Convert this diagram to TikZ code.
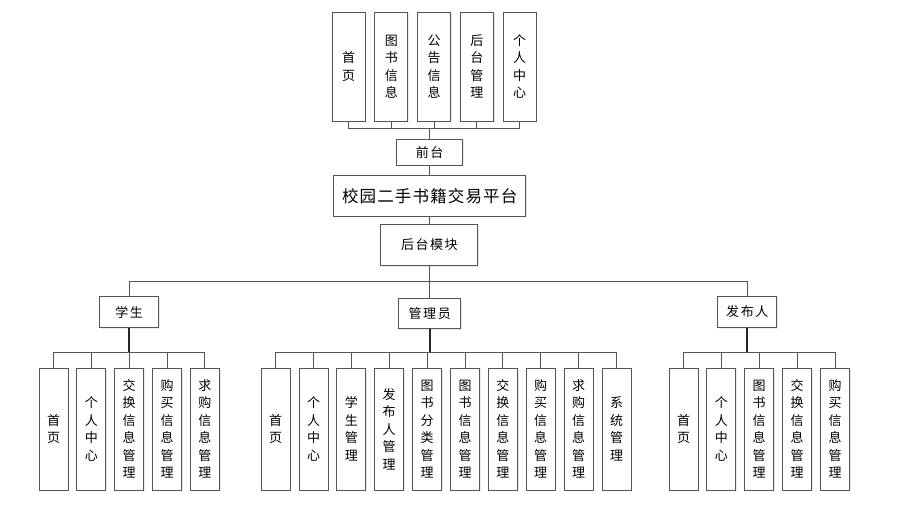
\documentclass[tikz,border=0pt]{standalone}
\usepackage{fontspec}
\newfontfamily\cjk{Noto Sans CJK SC}
\newfontfamily\cjkls[LetterSpace=12]{Noto Sans CJK SC}
\newfontfamily\cjktitle[LetterSpace=7]{Noto Sans CJK SC}
\usetikzlibrary{shadows}
\definecolor{boxline}{HTML}{555555}
\definecolor{conn}{HTML}{555555}
\tikzset{
  box/.style={draw=boxline, line width=1pt, fill=white, inner sep=0pt,
    drop shadow={shadow xshift=1.2pt, shadow yshift=-1.2pt, opacity=0.12, fill=blue!40!gray}},
  leaf/.style={box, minimum width=29, minimum height=122, align=center,
    font=\fontsize{13}{17.5}\selectfont\cjk},
  topleaf/.style={box, minimum width=33, minimum height=109, align=center,
    font=\fontsize{13}{17.5}\selectfont\cjk},
  hbox/.style={box, align=center, font=\fontsize{13}{15}\selectfont\cjkls},
  link/.style={draw=conn, line width=0.9pt},
  thick link/.style={draw=black!85, line width=1.8pt},
}
\begin{document}
\begin{tikzpicture}[x=1pt,y=-1pt]
\useasboundingbox (0,0) rectangle (906,506);
% top
\node[topleaf] (t1) at (348.5,66.5) {首\\页};
\node[topleaf] (t2) at (391.3,66.5) {图\\书\\信\\息};
\node[topleaf] (t3) at (434,66.5) {公\\告\\信\\息};
\node[topleaf] (t4) at (476.8,66.5) {后\\台\\管\\理};
\node[topleaf] (t5) at (519.5,66.5) {个\\人\\中\\心};
\node[hbox, minimum width=66, minimum height=26] (qt) at (429.7,152.2) {前台};
\node[box, minimum width=192, minimum height=41, font=\fontsize{16.5}{18}\selectfont\cjktitle] (main) at (429.7,195.7) {校园二手书籍交易平台};
\node[hbox, minimum width=97, minimum height=41] (ht) at (429.4,244.8) {后台模块};
\coordinate (tb) at (429.7,128);
\foreach \i in {1,...,5} {\draw[link] (t\i.south) |- (tb);}
\draw[link] (tb) -- (qt.north);
\draw[link] (qt.south) -- (main.north);
\draw[link] (main.south) -- (ht.north);
% roles
\node[hbox, minimum width=59, minimum height=31] (stu) at (129.2,312) {学生};
\node[hbox, minimum width=62, minimum height=30] (adm) at (429.7,313.3) {管理员};
\node[hbox, minimum width=59, minimum height=31] (pub) at (747.3,312) {发布人};
\coordinate (mb) at (429.4,281);
\draw[link] (ht.south) -- (mb);
\draw[link] (mb) -| (stu.north);
\draw[link] (mb) -| (pub.north);
\draw[link] (mb) -| (adm.north);
% student leaves
\node[leaf] (s1) at (53.5,429) {首\\页};
\node[leaf] (s2) at (91.3,429) {个\\人\\中\\心};
\node[leaf] (s3) at (129.2,429) {交\\换\\信\\息\\管\\理};
\node[leaf] (s4) at (167,429) {购\\买\\信\\息\\管\\理};
\node[leaf] (s5) at (204.8,429) {求\\购\\信\\息\\管\\理};
\coordinate (sb) at (129.2,352);
\draw[thick link] (stu.south) -- (sb);
\foreach \i in {1,...,5} {\draw[link] (sb) -| (s\i.north);}
% admin leaves
\node[leaf] (a1) at (275.7,429) {首\\页};
\node[leaf] (a2) at (313.5,429) {个\\人\\中\\心};
\node[leaf] (a3) at (351.4,429) {学\\生\\管\\理};
\node[leaf] (a4) at (389.2,429) {发\\布\\人\\管\\理};
\node[leaf] (a5) at (427.1,429) {图\\书\\分\\类\\管\\理};
\node[leaf] (a6) at (465,429) {图\\书\\信\\息\\管\\理};
\node[leaf] (a7) at (502.8,429) {交\\换\\信\\息\\管\\理};
\node[leaf] (a8) at (540.7,429) {购\\买\\信\\息\\管\\理};
\node[leaf] (a9) at (578.6,429) {求\\购\\信\\息\\管\\理};
\node[leaf] (a10) at (616.5,429) {系\\统\\管\\理};
\coordinate (ab) at (429.7,352);
\draw[thick link] (adm.south) -- (ab);
\foreach \i in {1,...,10} {\draw[link] (ab) -| (a\i.north);}
% publisher leaves
\node[leaf] (p1) at (683.5,429) {首\\页};
\node[leaf] (p2) at (721.3,429) {个\\人\\中\\心};
\node[leaf] (p3) at (759.2,429) {图\\书\\信\\息\\管\\理};
\node[leaf] (p4) at (797,429) {交\\换\\信\\息\\管\\理};
\node[leaf] (p5) at (835,429) {购\\买\\信\\息\\管\\理};
\coordinate (pb) at (747.3,352);
\draw[thick link] (pub.south) -- (pb);
\foreach \i in {1,...,5} {\draw[link] (pb) -| (p\i.north);}
\end{tikzpicture}
\end{document}
